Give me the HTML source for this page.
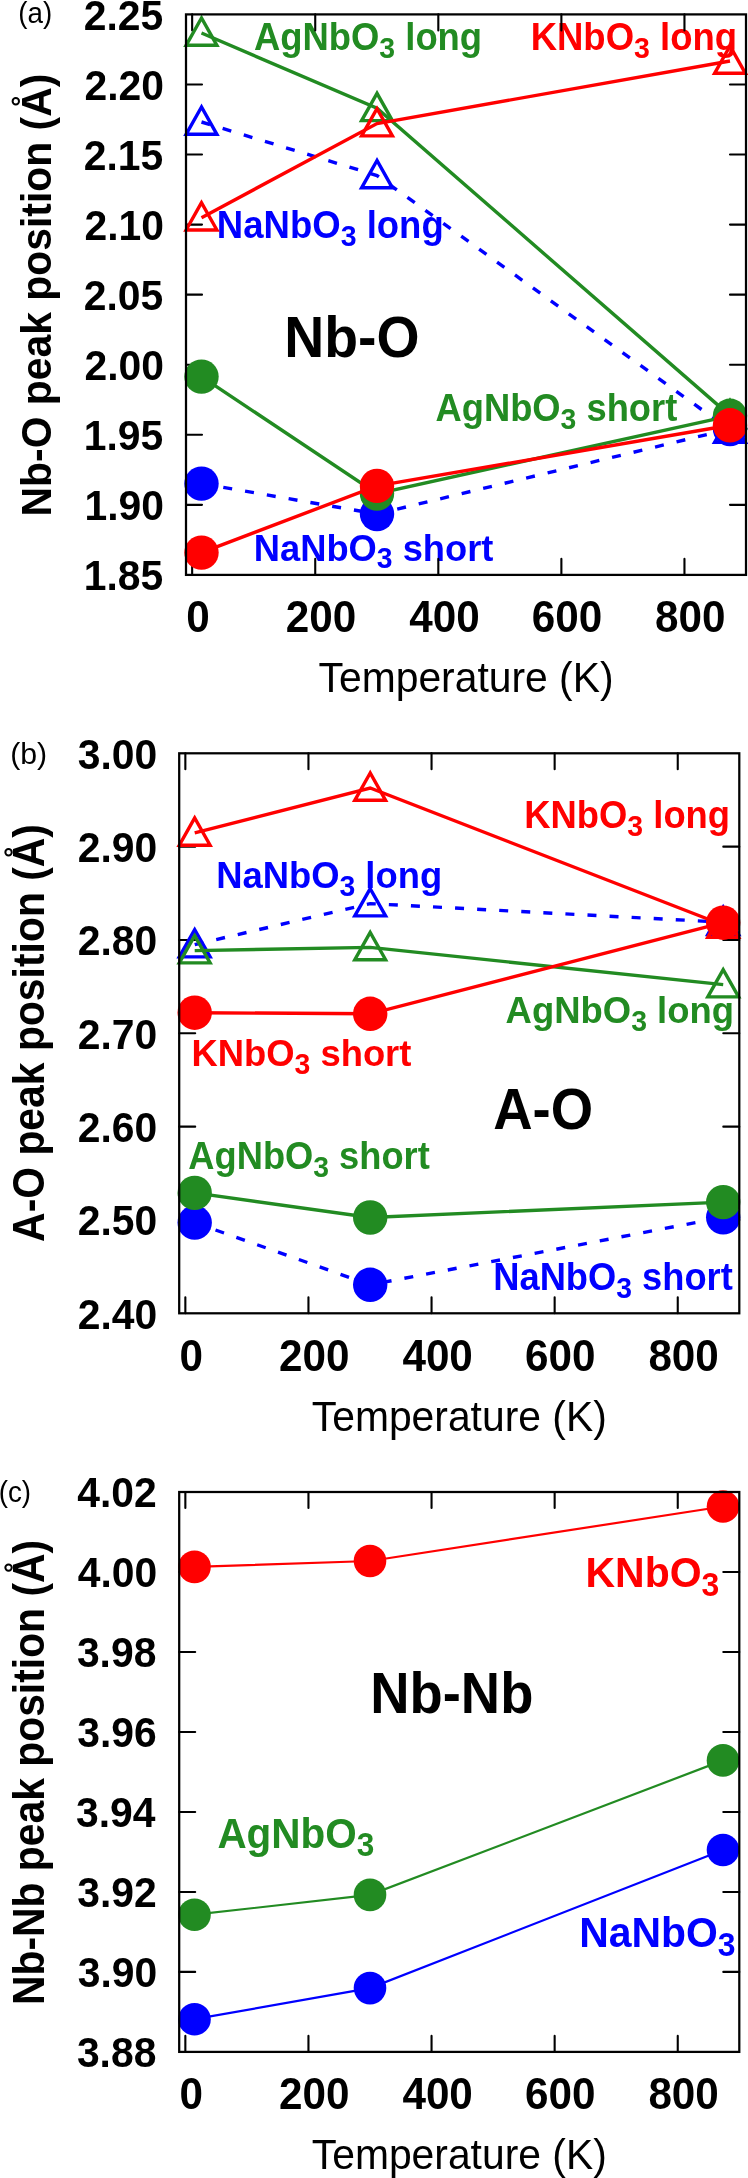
<!DOCTYPE html>
<html><head><meta charset="utf-8"><style>
html,body{margin:0;padding:0;background:#fff;}
svg{display:block;}
svg{will-change:transform;}
text{font-family:"Liberation Sans",sans-serif;}
</style></head><body>
<svg width="748" height="2178" viewBox="0 0 748 2178">
<rect width="748" height="2178" fill="#fff"/>
<text transform="translate(254.01,49.50) scale(0.9376,1)" font-weight="bold" fill="#228b22"><tspan font-size="38.84" dy="0.00">AgNbO</tspan><tspan font-size="30.30" dy="8.16">3</tspan><tspan font-size="38.84" dy="-8.16"> long</tspan></text>
<text transform="translate(530.64,49.50) scale(0.9403,1)" font-weight="bold" fill="#ff0000"><tspan font-size="38.84" dy="0.00">KNbO</tspan><tspan font-size="30.30" dy="8.16">3</tspan><tspan font-size="38.84" dy="-8.16"> long</tspan></text>
<text transform="translate(216.84,238.20) scale(0.9623,1)" font-weight="bold" fill="#0000ff"><tspan font-size="37.97" dy="0.00">NaNbO</tspan><tspan font-size="29.62" dy="7.97">3</tspan><tspan font-size="37.97" dy="-7.97"> long</tspan></text>
<text transform="translate(284.32,357.30) scale(0.9770,1)" font-weight="bold" fill="#000"><tspan font-size="56.67" dy="0.00">Nb-O</tspan></text>
<text transform="translate(435.51,420.50) scale(0.9462,1)" font-weight="bold" fill="#228b22"><tspan font-size="38.41" dy="0.00">AgNbO</tspan><tspan font-size="29.96" dy="8.07">3</tspan><tspan font-size="38.41" dy="-8.07"> short</tspan></text>
<text transform="translate(253.86,560.50) scale(0.9668,1)" font-weight="bold" fill="#0000ff"><tspan font-size="37.54" dy="0.00">NaNbO</tspan><tspan font-size="29.28" dy="7.88">3</tspan><tspan font-size="37.54" dy="-7.88"> short</tspan></text>
<text transform="translate(524.25,827.80) scale(0.9375,1)" font-weight="bold" fill="#ff0000"><tspan font-size="38.84" dy="0.00">KNbO</tspan><tspan font-size="30.30" dy="8.16">3</tspan><tspan font-size="38.84" dy="-8.16"> long</tspan></text>
<text transform="translate(216.15,887.80) scale(0.9621,1)" font-weight="bold" fill="#0000ff"><tspan font-size="37.83" dy="0.00">NaNbO</tspan><tspan font-size="29.50" dy="7.94">3</tspan><tspan font-size="37.83" dy="-7.94"> long</tspan></text>
<text transform="translate(505.61,1023.40) scale(0.9902,1)" font-weight="bold" fill="#228b22"><tspan font-size="36.81" dy="0.00">AgNbO</tspan><tspan font-size="28.71" dy="7.73">3</tspan><tspan font-size="36.81" dy="-7.73"> long</tspan></text>
<text transform="translate(191.45,1065.70) scale(0.9658,1)" font-weight="bold" fill="#ff0000"><tspan font-size="37.68" dy="0.00">KNbO</tspan><tspan font-size="29.39" dy="7.91">3</tspan><tspan font-size="37.68" dy="-7.91"> short</tspan></text>
<text transform="translate(493.17,1128.50) scale(0.9470,1)" font-weight="bold" fill="#000"><tspan font-size="57.54" dy="0.00">A-O</tspan></text>
<text transform="translate(188.31,1168.80) scale(0.9344,1)" font-weight="bold" fill="#228b22"><tspan font-size="38.84" dy="0.00">AgNbO</tspan><tspan font-size="30.30" dy="8.16">3</tspan><tspan font-size="38.84" dy="-8.16"> short</tspan></text>
<text transform="translate(493.26,1290.10) scale(0.9488,1)" font-weight="bold" fill="#0000ff"><tspan font-size="38.26" dy="0.00">NaNbO</tspan><tspan font-size="29.84" dy="8.03">3</tspan><tspan font-size="38.26" dy="-8.03"> short</tspan></text>
<text transform="translate(585.43,1587.40) scale(0.9527,1)" font-weight="bold" fill="#ff0000"><tspan font-size="43.04" dy="0.00">KNbO</tspan><tspan font-size="33.57" dy="9.04">3</tspan></text>
<text transform="translate(370.19,1712.50) scale(0.9556,1)" font-weight="bold" fill="#000"><tspan font-size="56.96" dy="0.00">Nb-Nb</tspan></text>
<text transform="translate(217.39,1847.50) scale(0.9466,1)" font-weight="bold" fill="#228b22"><tspan font-size="42.75" dy="0.00">AgNbO</tspan><tspan font-size="33.35" dy="8.98">3</tspan></text>
<text transform="translate(579.13,1946.90) scale(0.9774,1)" font-weight="bold" fill="#0000ff"><tspan font-size="41.88" dy="0.00">NaNbO</tspan><tspan font-size="32.67" dy="8.80">3</tspan></text>
<text transform="translate(18.34,23.20) scale(0.9399,1)" font-weight="normal" fill="#000"><tspan font-size="29.50" dy="0.00">(a)</tspan></text>
<text transform="translate(10.18,764.20) scale(1.0262,1)" font-weight="normal" fill="#000"><tspan font-size="29.50" dy="0.00">(b)</tspan></text>
<text transform="translate(-1.27,1502.20) scale(0.9420,1)" font-weight="normal" fill="#000"><tspan font-size="29.50" dy="0.00">(c)</tspan></text>
<text transform="translate(83.68,590.38) scale(1,1.035)" font-weight="bold" fill="#000"><tspan font-size="40.85" dy="0.00">1.85</tspan></text>
<text transform="translate(84.49,520.32) scale(1,1.035)" font-weight="bold" fill="#000"><tspan font-size="40.85" dy="0.00">1.90</tspan></text>
<text transform="translate(83.68,450.26) scale(1,1.035)" font-weight="bold" fill="#000"><tspan font-size="40.85" dy="0.00">1.95</tspan></text>
<text transform="translate(84.49,380.20) scale(1,1.035)" font-weight="bold" fill="#000"><tspan font-size="40.85" dy="0.00">2.00</tspan></text>
<text transform="translate(83.68,310.13) scale(1,1.035)" font-weight="bold" fill="#000"><tspan font-size="40.85" dy="0.00">2.05</tspan></text>
<text transform="translate(84.49,240.07) scale(1,1.035)" font-weight="bold" fill="#000"><tspan font-size="40.85" dy="0.00">2.10</tspan></text>
<text transform="translate(83.68,170.01) scale(1,1.035)" font-weight="bold" fill="#000"><tspan font-size="40.85" dy="0.00">2.15</tspan></text>
<text transform="translate(84.49,99.95) scale(1,1.035)" font-weight="bold" fill="#000"><tspan font-size="40.85" dy="0.00">2.20</tspan></text>
<text transform="translate(83.68,29.88) scale(1,1.035)" font-weight="bold" fill="#000"><tspan font-size="40.85" dy="0.00">2.25</tspan></text>
<text transform="translate(186.23,632.31) scale(1,1.035)" font-weight="bold" fill="#000"><tspan font-size="42.25" dy="0.00">0</tspan></text>
<text transform="translate(285.86,632.31) scale(1,1.035)" font-weight="bold" fill="#000"><tspan font-size="42.25" dy="0.00">200</tspan></text>
<text transform="translate(409.15,632.31) scale(1,1.035)" font-weight="bold" fill="#000"><tspan font-size="42.25" dy="0.00">400</tspan></text>
<text transform="translate(531.80,632.31) scale(1,1.035)" font-weight="bold" fill="#000"><tspan font-size="42.25" dy="0.00">600</tspan></text>
<text transform="translate(655.09,632.31) scale(1,1.035)" font-weight="bold" fill="#000"><tspan font-size="42.25" dy="0.00">800</tspan></text>
<text transform="translate(318.58,692.40) scale(0.9456,1)" font-weight="normal" fill="#000"><tspan font-size="43.19" dy="0.00">Temperature (K)</tspan></text>
<text transform="translate(77.69,1328.78) scale(1,1.035)" font-weight="bold" fill="#000"><tspan font-size="40.85" dy="0.00">2.40</tspan></text>
<text transform="translate(77.69,1235.45) scale(1,1.035)" font-weight="bold" fill="#000"><tspan font-size="40.85" dy="0.00">2.50</tspan></text>
<text transform="translate(77.69,1142.12) scale(1,1.035)" font-weight="bold" fill="#000"><tspan font-size="40.85" dy="0.00">2.60</tspan></text>
<text transform="translate(77.69,1048.78) scale(1,1.035)" font-weight="bold" fill="#000"><tspan font-size="40.85" dy="0.00">2.70</tspan></text>
<text transform="translate(77.69,955.45) scale(1,1.035)" font-weight="bold" fill="#000"><tspan font-size="40.85" dy="0.00">2.80</tspan></text>
<text transform="translate(77.69,862.12) scale(1,1.035)" font-weight="bold" fill="#000"><tspan font-size="40.85" dy="0.00">2.90</tspan></text>
<text transform="translate(77.69,768.78) scale(1,1.035)" font-weight="bold" fill="#000"><tspan font-size="40.85" dy="0.00">3.00</tspan></text>
<text transform="translate(179.44,1370.71) scale(1,1.035)" font-weight="bold" fill="#000"><tspan font-size="42.25" dy="0.00">0</tspan></text>
<text transform="translate(279.08,1370.71) scale(1,1.035)" font-weight="bold" fill="#000"><tspan font-size="42.25" dy="0.00">200</tspan></text>
<text transform="translate(402.39,1370.71) scale(1,1.035)" font-weight="bold" fill="#000"><tspan font-size="42.25" dy="0.00">400</tspan></text>
<text transform="translate(525.07,1370.71) scale(1,1.035)" font-weight="bold" fill="#000"><tspan font-size="42.25" dy="0.00">600</tspan></text>
<text transform="translate(648.38,1370.71) scale(1,1.035)" font-weight="bold" fill="#000"><tspan font-size="42.25" dy="0.00">800</tspan></text>
<text transform="translate(311.78,1430.80) scale(0.9456,1)" font-weight="normal" fill="#000"><tspan font-size="43.19" dy="0.00">Temperature (K)</tspan></text>
<text transform="translate(76.88,2067.38) scale(1,1.035)" font-weight="bold" fill="#000"><tspan font-size="40.85" dy="0.00">3.88</tspan></text>
<text transform="translate(77.69,1987.40) scale(1,1.035)" font-weight="bold" fill="#000"><tspan font-size="40.85" dy="0.00">3.90</tspan></text>
<text transform="translate(77.29,1907.41) scale(1,1.035)" font-weight="bold" fill="#000"><tspan font-size="40.85" dy="0.00">3.92</tspan></text>
<text transform="translate(76.06,1827.43) scale(1,1.035)" font-weight="bold" fill="#000"><tspan font-size="40.85" dy="0.00">3.94</tspan></text>
<text transform="translate(77.29,1747.44) scale(1,1.035)" font-weight="bold" fill="#000"><tspan font-size="40.85" dy="0.00">3.96</tspan></text>
<text transform="translate(76.88,1667.46) scale(1,1.035)" font-weight="bold" fill="#000"><tspan font-size="40.85" dy="0.00">3.98</tspan></text>
<text transform="translate(77.69,1587.47) scale(1,1.035)" font-weight="bold" fill="#000"><tspan font-size="40.85" dy="0.00">4.00</tspan></text>
<text transform="translate(77.29,1507.48) scale(1,1.035)" font-weight="bold" fill="#000"><tspan font-size="40.85" dy="0.00">4.02</tspan></text>
<text transform="translate(179.44,2109.31) scale(1,1.035)" font-weight="bold" fill="#000"><tspan font-size="42.25" dy="0.00">0</tspan></text>
<text transform="translate(279.08,2109.31) scale(1,1.035)" font-weight="bold" fill="#000"><tspan font-size="42.25" dy="0.00">200</tspan></text>
<text transform="translate(402.39,2109.31) scale(1,1.035)" font-weight="bold" fill="#000"><tspan font-size="42.25" dy="0.00">400</tspan></text>
<text transform="translate(525.07,2109.31) scale(1,1.035)" font-weight="bold" fill="#000"><tspan font-size="42.25" dy="0.00">600</tspan></text>
<text transform="translate(648.38,2109.31) scale(1,1.035)" font-weight="bold" fill="#000"><tspan font-size="42.25" dy="0.00">800</tspan></text>
<text transform="translate(311.78,2169.40) scale(0.9456,1)" font-weight="normal" fill="#000"><tspan font-size="43.19" dy="0.00">Temperature (K)</tspan></text>
<text transform="translate(50.50,513.60) rotate(-90) translate(-2.86,0) scale(0.9563,1)" font-weight="bold" fill="#000"><tspan font-size="42.75" dy="0.00">Nb-O peak position (A)</tspan></text>
<text transform="translate(43.90,1240.65) rotate(-90) translate(-1.23,0) scale(0.9406,1)" font-weight="bold" fill="#000"><tspan font-size="43.48" dy="0.00">A-O peak position (A)</tspan></text>
<text transform="translate(43.90,2002.10) rotate(-90) translate(-2.86,0) scale(0.9394,1)" font-weight="bold" fill="#000"><tspan font-size="43.48" dy="0.00">Nb-Nb peak position (A)</tspan></text>
<circle cx="15.80" cy="101.20" r="3.2" fill="none" stroke="#000" stroke-width="2.0"/>
<circle cx="8.55" cy="852.20" r="3.2" fill="none" stroke="#000" stroke-width="2.0"/>
<circle cx="8.55" cy="1567.60" r="3.2" fill="none" stroke="#000" stroke-width="2.0"/>
<path d="M186.00 504.84H202.00M746.00 504.84H730.00M186.00 434.77H202.00M746.00 434.77H730.00M186.00 364.71H202.00M746.00 364.71H730.00M186.00 294.65H202.00M746.00 294.65H730.00M186.00 224.59H202.00M746.00 224.59H730.00M186.00 154.52H202.00M746.00 154.52H730.00M186.00 84.46H202.00M746.00 84.46H730.00M192.15 574.90V558.90M192.15 14.40V30.40M315.23 574.90V558.90M315.23 14.40V30.40M438.31 574.90V558.90M438.31 14.40V30.40M561.38 574.90V558.90M561.38 14.40V30.40M684.46 574.90V558.90M684.46 14.40V30.40" stroke="#000" stroke-width="2.1" stroke-linecap="round" fill="none"/>
<path d="M179.20 1219.97H195.20M739.30 1219.97H723.30M179.20 1126.63H195.20M739.30 1126.63H723.30M179.20 1033.30H195.20M739.30 1033.30H723.30M179.20 939.97H195.20M739.30 939.97H723.30M179.20 846.63H195.20M739.30 846.63H723.30M185.35 1313.30V1297.30M185.35 753.30V769.30M308.45 1313.30V1297.30M308.45 753.30V769.30M431.55 1313.30V1297.30M431.55 753.30V769.30M554.65 1313.30V1297.30M554.65 753.30V769.30M677.75 1313.30V1297.30M677.75 753.30V769.30" stroke="#000" stroke-width="2.1" stroke-linecap="round" fill="none"/>
<path d="M179.20 1971.91H195.20M739.30 1971.91H723.30M179.20 1891.93H195.20M739.30 1891.93H723.30M179.20 1811.94H195.20M739.30 1811.94H723.30M179.20 1731.96H195.20M739.30 1731.96H723.30M179.20 1651.97H195.20M739.30 1651.97H723.30M179.20 1571.99H195.20M739.30 1571.99H723.30M185.35 2051.90V2035.90M185.35 1492.00V1508.00M308.45 2051.90V2035.90M308.45 1492.00V1508.00M431.55 2051.90V2035.90M431.55 1492.00V1508.00M554.65 2051.90V2035.90M554.65 1492.00V1508.00M677.75 2051.90V2035.90M677.75 1492.00V1508.00" stroke="#000" stroke-width="2.1" stroke-linecap="round" fill="none"/>
<path d="M201.50 122.00 L377.00 175.50 L730.00 430.00" fill="none" stroke="#0000ff" stroke-width="3.40" stroke-dasharray="9 13.1" stroke-linejoin="miter"/>
<path d="M201.50 107.00L186.10 134.30L216.90 134.30Z" fill="none" stroke="#0000ff" stroke-width="3.40" stroke-linejoin="miter" stroke-miterlimit="10"/>
<path d="M377.00 160.50L361.60 187.80L392.40 187.80Z" fill="none" stroke="#0000ff" stroke-width="3.40" stroke-linejoin="miter" stroke-miterlimit="10"/>
<path d="M730.00 415.00L714.60 442.30L745.40 442.30Z" fill="none" stroke="#0000ff" stroke-width="3.40" stroke-linejoin="miter" stroke-miterlimit="10"/>
<path d="M201.50 33.00 L377.00 108.30 L730.00 415.60" fill="none" stroke="#228b22" stroke-width="3.40" stroke-linejoin="miter"/>
<path d="M201.50 18.00L186.10 45.30L216.90 45.30Z" fill="none" stroke="#228b22" stroke-width="3.40" stroke-linejoin="miter" stroke-miterlimit="10"/>
<path d="M377.00 93.30L361.60 120.60L392.40 120.60Z" fill="none" stroke="#228b22" stroke-width="3.40" stroke-linejoin="miter" stroke-miterlimit="10"/>
<path d="M730.00 400.60L714.60 427.90L745.40 427.90Z" fill="none" stroke="#228b22" stroke-width="3.40" stroke-linejoin="miter" stroke-miterlimit="10"/>
<path d="M201.50 217.70 L377.00 123.60 L730.00 61.00" fill="none" stroke="#ff0000" stroke-width="3.40" stroke-linejoin="miter"/>
<path d="M201.50 202.70L186.10 230.00L216.90 230.00Z" fill="none" stroke="#ff0000" stroke-width="3.40" stroke-linejoin="miter" stroke-miterlimit="10"/>
<path d="M377.00 108.60L361.60 135.90L392.40 135.90Z" fill="none" stroke="#ff0000" stroke-width="3.40" stroke-linejoin="miter" stroke-miterlimit="10"/>
<path d="M730.00 46.00L714.60 73.30L745.40 73.30Z" fill="none" stroke="#ff0000" stroke-width="3.40" stroke-linejoin="miter" stroke-miterlimit="10"/>
<path d="M201.50 483.60 L377.00 514.00 L730.00 429.00" fill="none" stroke="#0000ff" stroke-width="3.40" stroke-dasharray="9 13.1" stroke-linejoin="miter"/>
<circle cx="201.50" cy="483.60" r="17.20" fill="#0000ff"/>
<circle cx="377.00" cy="514.00" r="17.20" fill="#0000ff"/>
<circle cx="730.00" cy="429.00" r="17.20" fill="#0000ff"/>
<path d="M201.50 376.60 L377.00 493.60 L730.00 415.80" fill="none" stroke="#228b22" stroke-width="3.40" stroke-linejoin="miter"/>
<circle cx="201.50" cy="376.60" r="17.20" fill="#228b22"/>
<circle cx="377.00" cy="493.60" r="17.20" fill="#228b22"/>
<circle cx="730.00" cy="415.80" r="17.20" fill="#228b22"/>
<path d="M201.50 552.60 L377.00 485.90 L730.00 425.30" fill="none" stroke="#ff0000" stroke-width="3.40" stroke-linejoin="miter"/>
<circle cx="201.50" cy="552.60" r="17.20" fill="#ff0000"/>
<circle cx="377.00" cy="485.90" r="17.20" fill="#ff0000"/>
<circle cx="730.00" cy="425.30" r="17.20" fill="#ff0000"/>
<path d="M194.70 944.60 L370.20 903.60 L723.20 922.20" fill="none" stroke="#0000ff" stroke-width="3.40" stroke-dasharray="9 13.1" stroke-linejoin="miter"/>
<path d="M194.70 929.60L179.30 956.90L210.10 956.90Z" fill="none" stroke="#0000ff" stroke-width="3.40" stroke-linejoin="miter" stroke-miterlimit="10"/>
<path d="M370.20 888.60L354.80 915.90L385.60 915.90Z" fill="none" stroke="#0000ff" stroke-width="3.40" stroke-linejoin="miter" stroke-miterlimit="10"/>
<path d="M723.20 907.20L707.80 934.50L738.60 934.50Z" fill="none" stroke="#0000ff" stroke-width="3.40" stroke-linejoin="miter" stroke-miterlimit="10"/>
<path d="M194.70 950.60 L370.20 947.40 L723.20 984.60" fill="none" stroke="#228b22" stroke-width="3.40" stroke-linejoin="miter"/>
<path d="M194.70 935.60L179.30 962.90L210.10 962.90Z" fill="none" stroke="#228b22" stroke-width="3.40" stroke-linejoin="miter" stroke-miterlimit="10"/>
<path d="M370.20 932.40L354.80 959.70L385.60 959.70Z" fill="none" stroke="#228b22" stroke-width="3.40" stroke-linejoin="miter" stroke-miterlimit="10"/>
<path d="M723.20 969.60L707.80 996.90L738.60 996.90Z" fill="none" stroke="#228b22" stroke-width="3.40" stroke-linejoin="miter" stroke-miterlimit="10"/>
<path d="M194.70 832.90 L370.20 788.00 L723.20 925.00" fill="none" stroke="#ff0000" stroke-width="3.40" stroke-linejoin="miter"/>
<path d="M194.70 817.90L179.30 845.20L210.10 845.20Z" fill="none" stroke="#ff0000" stroke-width="3.40" stroke-linejoin="miter" stroke-miterlimit="10"/>
<path d="M370.20 773.00L354.80 800.30L385.60 800.30Z" fill="none" stroke="#ff0000" stroke-width="3.40" stroke-linejoin="miter" stroke-miterlimit="10"/>
<path d="M723.20 910.00L707.80 937.30L738.60 937.30Z" fill="none" stroke="#ff0000" stroke-width="3.40" stroke-linejoin="miter" stroke-miterlimit="10"/>
<path d="M194.70 1222.60 L370.20 1284.80 L723.20 1217.30" fill="none" stroke="#0000ff" stroke-width="3.40" stroke-dasharray="9 13.1" stroke-linejoin="miter"/>
<circle cx="194.70" cy="1222.60" r="17.20" fill="#0000ff"/>
<circle cx="370.20" cy="1284.80" r="17.20" fill="#0000ff"/>
<circle cx="723.20" cy="1217.30" r="17.20" fill="#0000ff"/>
<path d="M194.70 1192.90 L370.20 1217.50 L723.20 1202.10" fill="none" stroke="#228b22" stroke-width="3.40" stroke-linejoin="miter"/>
<circle cx="194.70" cy="1192.90" r="17.20" fill="#228b22"/>
<circle cx="370.20" cy="1217.50" r="17.20" fill="#228b22"/>
<circle cx="723.20" cy="1202.10" r="17.20" fill="#228b22"/>
<path d="M194.70 1012.70 L370.20 1013.80 L723.20 922.70" fill="none" stroke="#ff0000" stroke-width="3.40" stroke-linejoin="miter"/>
<circle cx="194.70" cy="1012.70" r="17.20" fill="#ff0000"/>
<circle cx="370.20" cy="1013.80" r="17.20" fill="#ff0000"/>
<circle cx="723.20" cy="922.70" r="17.20" fill="#ff0000"/>
<path d="M194.50 2019.20 L370.00 1988.10 L723.00 1850.00" fill="none" stroke="#0000ff" stroke-width="2.20" stroke-linejoin="miter"/>
<circle cx="194.50" cy="2019.20" r="16.30" fill="#0000ff"/>
<circle cx="370.00" cy="1988.10" r="16.30" fill="#0000ff"/>
<circle cx="723.00" cy="1850.00" r="16.30" fill="#0000ff"/>
<path d="M194.50 1914.70 L370.00 1894.90 L723.00 1760.40" fill="none" stroke="#228b22" stroke-width="2.20" stroke-linejoin="miter"/>
<circle cx="194.50" cy="1914.70" r="16.30" fill="#228b22"/>
<circle cx="370.00" cy="1894.90" r="16.30" fill="#228b22"/>
<circle cx="723.00" cy="1760.40" r="16.30" fill="#228b22"/>
<path d="M194.50 1566.90 L370.00 1561.00 L723.00 1506.50" fill="none" stroke="#ff0000" stroke-width="2.20" stroke-linejoin="miter"/>
<circle cx="194.50" cy="1566.90" r="16.30" fill="#ff0000"/>
<circle cx="370.00" cy="1561.00" r="16.30" fill="#ff0000"/>
<circle cx="723.00" cy="1506.50" r="16.30" fill="#ff0000"/>
<rect x="186.00" y="14.40" width="560.00" height="560.50" fill="none" stroke="#000" stroke-width="2.25"/>
<rect x="179.20" y="753.30" width="560.10" height="560.00" fill="none" stroke="#000" stroke-width="2.25"/>
<rect x="179.20" y="1492.00" width="560.10" height="559.90" fill="none" stroke="#000" stroke-width="2.25"/>
</svg></body></html>
